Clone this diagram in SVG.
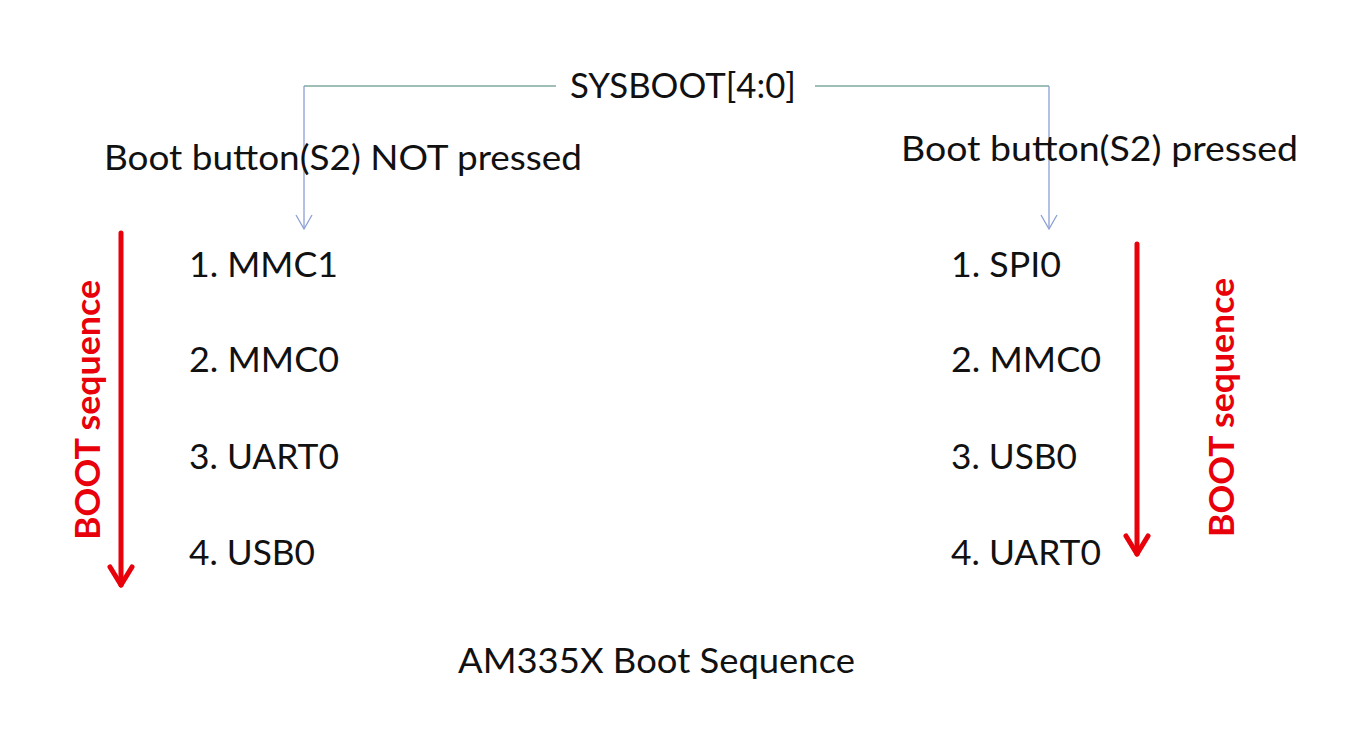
<svg xmlns="http://www.w3.org/2000/svg" width="1361" height="738" viewBox="0 0 1361 738">
<style>
.t{font-family:Lato,"Open Sans","Liberation Sans",sans-serif;font-size:34px;fill:#111}
.r{font-family:Lato,"Open Sans","Liberation Sans",sans-serif;font-size:34px;font-weight:bold;fill:#e8000b}
.h{fill:none;stroke:#7fa8a0;stroke-width:1.3}
.v{fill:none;stroke:#8c9fd6;stroke-width:1.3}
.ra{fill:none;stroke:#e8000b;stroke-width:5;stroke-linecap:round;stroke-linejoin:round}
</style>
<rect width="1361" height="738" fill="#fff"/>
<g id="connectors">
<path class="h" d="M556 86 H304"/>
<path class="v" d="M304 86 V228"/>
<path class="v" d="M296 215 L304 229 L312 215"/>
<path class="h" d="M815 86 H1049"/>
<path class="v" d="M1049 86 V228"/>
<path class="v" d="M1041 215 L1049 229 L1057 215"/>
</g>
<g id="sysboot"><text class="t" x="570" y="98" textLength="226" lengthAdjust="spacingAndGlyphs">SYSBOOT[4:0]</text></g>
<g id="left-label"><text class="t" x="104" y="170" textLength="478" lengthAdjust="spacingAndGlyphs">Boot button(S2) NOT pressed</text></g>
<g id="right-label"><text class="t" x="901" y="161" textLength="397" lengthAdjust="spacingAndGlyphs">Boot button(S2) pressed</text></g>
<g id="left-list">
<text class="t" x="189" y="277" textLength="149" lengthAdjust="spacingAndGlyphs">1. MMC1</text>
<text class="t" x="189" y="372" textLength="150" lengthAdjust="spacingAndGlyphs">2. MMC0</text>
<text class="t" x="189" y="469" textLength="150" lengthAdjust="spacingAndGlyphs">3. UART0</text>
<text class="t" x="189" y="565" textLength="126" lengthAdjust="spacingAndGlyphs">4. USB0</text>
</g>
<g id="right-list">
<text class="t" x="951" y="277" textLength="110" lengthAdjust="spacingAndGlyphs">1. SPI0</text>
<text class="t" x="951" y="372" textLength="150" lengthAdjust="spacingAndGlyphs">2. MMC0</text>
<text class="t" x="951" y="469" textLength="126" lengthAdjust="spacingAndGlyphs">3. USB0</text>
<text class="t" x="951" y="565" textLength="150" lengthAdjust="spacingAndGlyphs">4. UART0</text>
</g>
<g id="left-seq">
<path class="ra" d="M121 233 V585"/>
<path class="ra" d="M110 567 L121 585 L132 567"/>
<text class="r" transform="translate(100 540) rotate(-90)" textLength="260" lengthAdjust="spacingAndGlyphs">BOOT sequence</text>
</g>
<g id="right-seq">
<path class="ra" d="M1137 244 V554"/>
<path class="ra" d="M1126 536 L1137 554 L1148 536"/>
<text class="r" transform="translate(1234 537) rotate(-90)" textLength="259" lengthAdjust="spacingAndGlyphs">BOOT sequence</text>
</g>
<g id="title"><text class="t" x="458" y="673" textLength="397" lengthAdjust="spacingAndGlyphs">AM335X Boot Sequence</text></g>
</svg>
